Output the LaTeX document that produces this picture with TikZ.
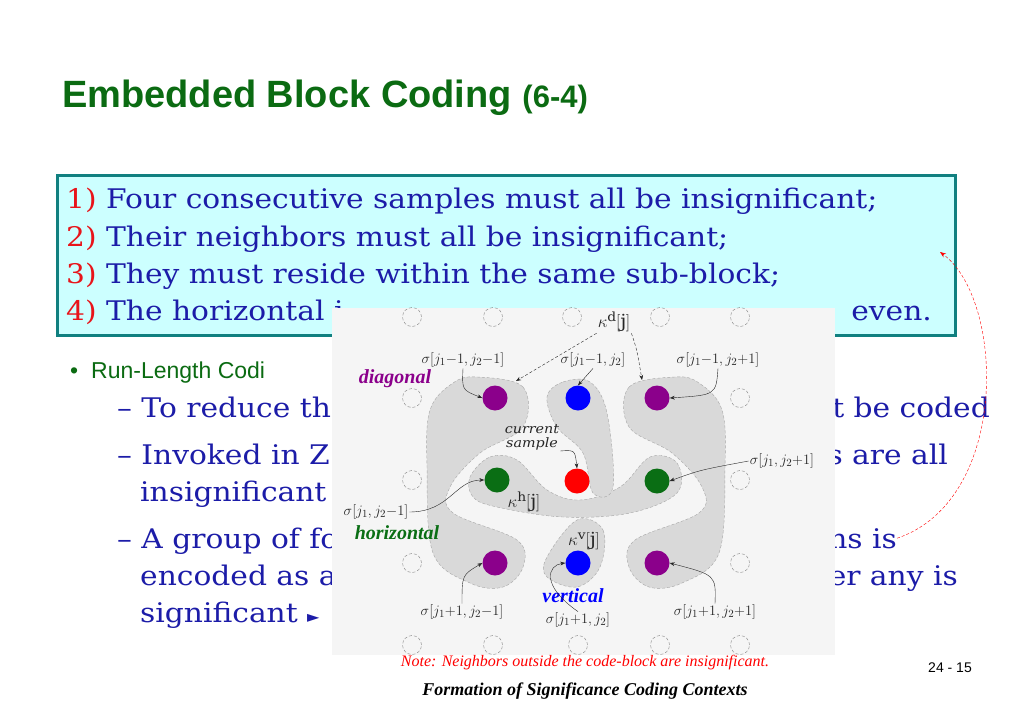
\documentclass[tikz,border=0pt]{standalone}
\usepackage{fontspec}
\setmainfont{DejaVu Serif}[FakeStretch=1.1]
\setsansfont{Liberation Sans}
\newfontfamily\capfont{Liberation Serif}
\newfontfamily\symfont{DejaVu Sans}
\usetikzlibrary{positioning,arrows.meta}
\definecolor{titlegreen}{HTML}{0B6B12}
\definecolor{txtblue}{HTML}{1C1CA8}
\definecolor{numred}{HTML}{E8141A}
\definecolor{boxfill}{HTML}{CCFFFF}
\definecolor{boxline}{HTML}{108080}
\definecolor{dotpurple}{HTML}{8B008B}
\definecolor{dotgreen}{HTML}{0A6E14}
\newcommand\bodysize{\fontsize{27}{31}\selectfont}
\tikzset{
  body/.style={anchor=base west, inner sep=0, text=txtblue, font=\bodysize},
  bodyr/.style={body, anchor=base east},
  num/.style={text=numred},
  dot/.style={circle, minimum size=25pt, inner sep=0},
  hole/.style={circle, draw=gray, densely dashed, minimum size=19pt, inner sep=0},
  sig/.style={inner sep=1pt, font=\fontsize{15}{15}\selectfont, text=black!85},
  blob/.style={fill=gray!30, draw=gray!70, densely dashed, thin},
  lbl/.style={font=\capfont\bfseries\itshape\fontsize{20}{20}\selectfont, inner sep=0},
  pnt/.style={-{Stealth[length=5pt]}, thin, black!85}
}
\begin{document}
\begin{tikzpicture}[x=1pt, y=-1pt]
\useasboundingbox[fill=white] (0,0) rectangle (1024,709);
% title
\node[anchor=base west, inner sep=0, text=titlegreen, font=\sffamily\bfseries\fontsize{38}{40}\selectfont]
  (title) at (62,107) {Embedded Block Coding \fontsize{31}{31}\selectfont(6-4)};
% conditions box
\node[draw=boxline, line width=2.5pt, fill=boxfill, minimum width=898pt, minimum height=160pt, anchor=north west, inner sep=0]
  (cond) at (56,174) {};
\node[body] (c1) at (66,208) {\textcolor{numred}{1)} Four consecutive samples must all be insignificant;};
\node[body] (c2) at (66,246) {\textcolor{numred}{2)} Their neighbors must all be insignificant;};
\node[body] (c3) at (66,283) {\textcolor{numred}{3)} They must reside within the same sub-block;};
\node[body] (c4) at (66,320) {\textcolor{numred}{4)} The horizontal i};
\node[bodyr] (c4r) at (932,320) {even.};
% bullets
\node[anchor=base west, inner sep=0, text=titlegreen, font=\sffamily\fontsize{23}{23}\selectfont]
  (rl) at (70,378) {\textbullet\hspace{13pt}Run-Length Codi};
\node[body] (s1) at (117,417) {\textendash\ To reduce th};
\node[bodyr] (s1r) at (990,417) {t be coded};
\node[body] (s2) at (117,464) {\textendash\ Invoked in Z};
\node[bodyr] (s2r) at (948,464) {s are all};
\node[body] (s3) at (140,501) {insignificant};
\node[body] (s4) at (117,548) {\textendash\ A group of fo};
\node[bodyr] (s4r) at (897,548) {ns is};
\node[body] (s5) at (140,585) {encoded as a};
\node[bodyr] (s5r) at (958,585) {er any is};
\node[body] (s6) at (140,622) {significant {\symfont\fontsize{16}{16}\selectfont ►}};
% scanned figure
\fill[gray!8] (332,308) rectangle (835,655);
\path[blob] plot[smooth cycle, tension=0.6] coordinates {(477,377) (523,387) (523,427) (480,453) (450,487) (453,513) (517,540) (523,567) (503,587) (470,583) (433,553) (427,467) (430,410) (453,383)};
\path[blob] plot[smooth cycle, tension=0.6] coordinates {(675,377) (629,387) (629,427) (672,453) (702,487) (699,513) (635,540) (629,567) (649,587) (682,583) (719,553) (725,467) (722,410) (699,383)};
\path[blob] plot[smooth cycle, tension=0.6] coordinates {(470,477) (490,457) (517,460) (547,490) (580,500) (620,487) (650,457) (677,463) (677,493) (630,513) (563,517) (497,507) (473,497)};
\path[blob] plot[smooth cycle, tension=0.6] coordinates {(547,397) (563,382) (590,382) (607,413) (613,487) (593,493) (583,453) (557,427)};
\path[blob] plot[smooth cycle, tension=0.6] coordinates {(577,520) (603,530) (600,567) (577,587) (547,577) (547,557)};
% empty neighbours
\foreach \x/\y [count=\i] in {412/317,493/317,660/317,740/317,412/398,740/398,412/480,740/480,412/563,740/563,412/645,493/645,578/645,660/645,740/645}
  \node[hole] (h\i) at (\x,\y) {};
\node[hole] (hk) at (572,317) {};
% samples
\node[dot, fill=dotpurple] (d1) at (495,398) {};
\node[dot, fill=blue] (v1) at (578,398) {};
\node[dot, fill=dotpurple] (d2) at (657,398) {};
\node[dot, fill=dotgreen] (g1) at (497,480) {};
\node[dot, fill=red] (cur) at (577,481) {};
\node[dot, fill=dotgreen] (g2) at (657,481) {};
\node[dot, fill=dotpurple] (d3) at (495,563) {};
\node[dot, fill=blue] (v2) at (578,563) {};
\node[dot, fill=dotpurple] (d4) at (657,563) {};
% labels
\node[sig, font=\fontsize{18}{18}\selectfont] (kd) at (614,322) {$\kappa^{\rm d}[\mathrm{j}]$};
\node[sig] (l1) at (463,360) {$\sigma[j_1{-}1,j_2{-}1]$};
\node[sig] (l2) at (593,360) {$\sigma[j_1{-}1,j_2]$};
\node[sig] (l3) at (718,360) {$\sigma[j_1{-}1,j_2{+}1]$};
\node[sig, font=\itshape\fontsize{13}{14}\selectfont, align=center] (cs) at (532,437) {current\\sample};
\node[sig] (l4) at (782,461) {$\sigma[j_1,j_2{+}1]$};
\node[sig, font=\fontsize{18}{18}\selectfont] (kh) at (524,502) {$\kappa^{\rm h}[\mathrm{j}]$};
\node[sig] (l5) at (376,512) {$\sigma[j_1,j_2{-}1]$};
\node[sig, font=\fontsize{18}{18}\selectfont] (kv) at (584,541) {$\kappa^{\rm v}[\mathrm{j}]$};
\node[sig] (l6) at (462,612) {$\sigma[j_1{+}1,j_2{-}1]$};
\node[sig] (l7) at (578,620) {$\sigma[j_1{+}1,j_2]$};
\node[sig] (l8) at (715,612) {$\sigma[j_1{+}1,j_2{+}1]$};
\node[lbl, text=dotpurple] (diag) at (395,379) {diagonal};
\node[lbl, text=dotgreen] (horiz) at (397,533) {horizontal};
\node[lbl, text=blue] (vert) at (573,596) {vertical};
% pointers
\draw[pnt, densely dashed] (kd.south west) -- (516,381);
\draw[pnt, densely dashed] (kd.south east) .. controls (637,350) .. (642,380);
\draw[pnt] (l1.south) .. controls (462,390) .. (d1.west);
\draw[pnt] (l2.south) -- (v1.north);
\draw[pnt] (l3.south) .. controls (716,395) .. (d2.east);
\draw[pnt] (cs.south east) .. controls (575,450) .. (cur.north);
\draw[pnt] (l4.west) .. controls (700,470) .. (g2.east);
\draw[pnt] (l5.east) .. controls (450,512) and (455,480) .. (g1.west);
\draw[pnt] (l6.north) .. controls (462,575) .. (d3.west);
\draw[pnt] (l7.north) .. controls (540,585) and (548,565) .. (v2.west);
\draw[pnt] (l8.north) .. controls (716,575) .. (d4.east);
% link back to the conditions
\coordinate (tip) at (940,252);
\draw[red, densely dashed, -{Stealth[length=6pt]}] (s4r.east) .. controls (1010,500) and (1005,300) .. (tip);
% footer
\node[text=red, font=\capfont\itshape\fontsize{16}{16}\selectfont, inner sep=0] (note) at (585,663) {Note: Neighbors outside the code-block are insignificant.};
\node[font=\capfont\bfseries\itshape\fontsize{18}{18}\selectfont, inner sep=0] (cap) at (585,691) {Formation of Significance Coding Contexts};
\node[font=\sffamily\fontsize{14}{14}\selectfont, inner sep=0] (pg) at (950,668) {24 - 15};
\end{tikzpicture}
\end{document}
